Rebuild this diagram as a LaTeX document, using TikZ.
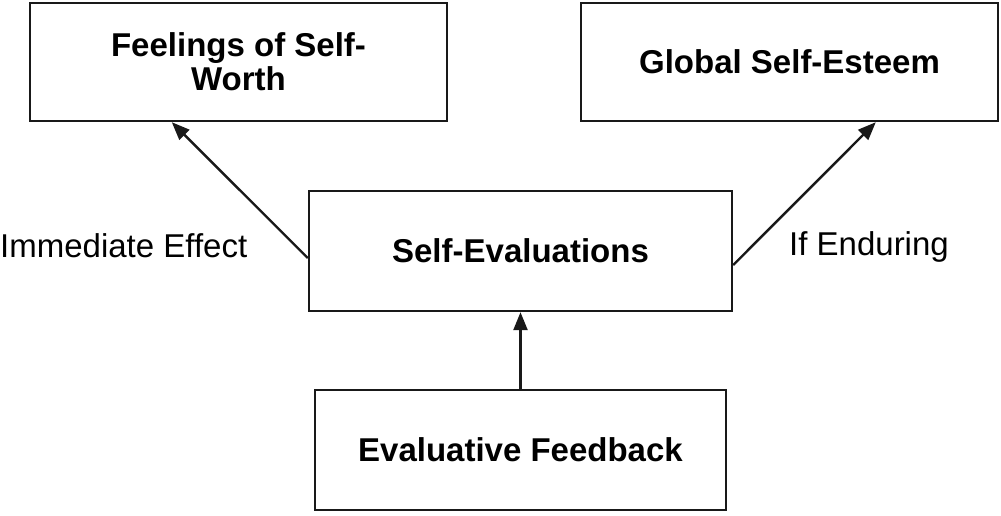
\documentclass[tikz,border=0pt]{standalone}
\usepackage{fontspec}
\setmainfont{Liberation Sans}
\usetikzlibrary{arrows.meta}
\begin{document}
\begin{tikzpicture}[x=1pt,y=-1pt,
  box/.style={draw=black!90, line width=2.4pt, inner sep=0pt, align=center,
    font=\fontsize{33}{34}\selectfont\bfseries},
  lbl/.style={inner sep=0pt, font=\fontsize{33}{34}\selectfont},
  arr/.style={line width=2.4pt, draw=black!90, -{Triangle[length=18pt,width=14pt]}}]
\useasboundingbox (0,0) rectangle (1001,515);
\node[box, minimum width=417pt, minimum height=118pt] (fw) at (238.5,62) {Feelings of Self-\\Worth};
\node[box, minimum width=417pt, minimum height=118pt] (gse) at (789.5,62) {Global Self-Esteem};
\node[box, minimum width=423pt, minimum height=120pt] (se) at (520.5,251) {Self-Evaluations};
\node[box, minimum width=411pt, minimum height=120pt] (ef) at (520.5,450) {Evaluative Feedback};
\node[lbl, anchor=west] (ie) at (0,246) {Immediate Effect};
\node[lbl, anchor=west] (en) at (789,247) {If Enduring};
\draw[arr] ([yshift=-7pt]se.west) -- ([xshift=143pt]fw.south west);
\draw[arr] ([yshift=-14pt]se.east) -- ([xshift=296pt]gse.south west);
\draw[arr] (ef.north) -- (se.south);
\end{tikzpicture}
\end{document}
